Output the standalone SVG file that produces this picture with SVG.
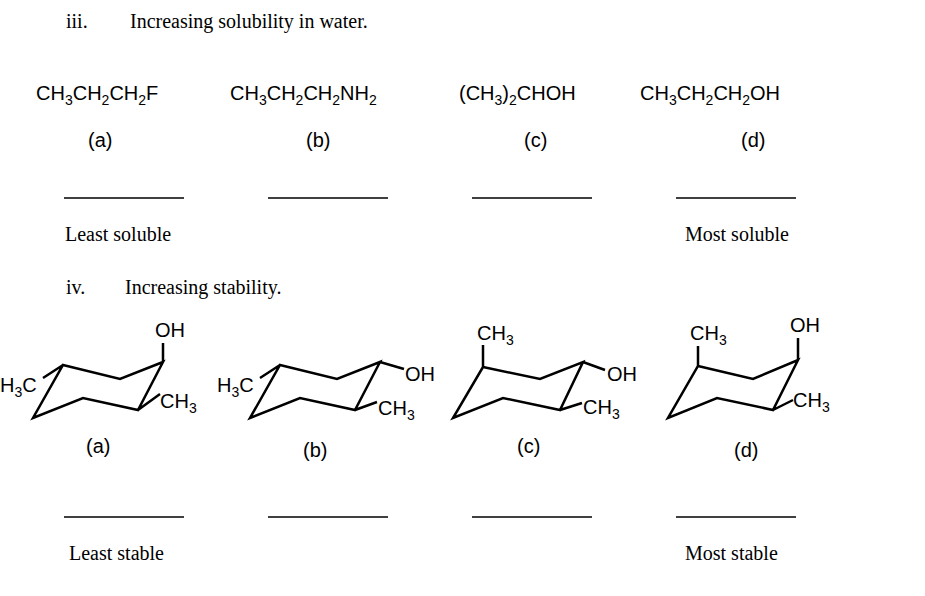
<svg xmlns="http://www.w3.org/2000/svg" width="925" height="596" viewBox="0 0 925 596">
<style>
.s{font-family:"Liberation Serif","DejaVu Serif",serif;font-size:20px;fill:#000}
.c{font-family:"Liberation Sans",Arial,sans-serif;font-size:20px;fill:#000}
.b{fill:none;stroke:#000;stroke-width:2.5;stroke-linejoin:miter}
.u{stroke:#000;stroke-width:1.3}
</style>
<rect width="925" height="596" fill="#fff"/>
<g id="headings">
<text class="s" x="66" y="28">iii.</text>
<text class="s" x="130" y="28">Increasing solubility in water.</text>
<text class="s" x="66" y="294">iv.</text>
<text class="s" x="125" y="294">Increasing stability.</text>
<text class="s" x="65" y="241">Least soluble</text>
<text class="s" x="685" y="241">Most soluble</text>
<text class="s" x="69" y="560">Least stable</text>
<text class="s" x="685" y="560">Most stable</text>
</g>
<g id="compounds">
<text class="c" x="36" y="100">CH<tspan font-size="14" dy="5">3</tspan><tspan dy="-5">CH</tspan><tspan font-size="14" dy="5">2</tspan><tspan dy="-5">CH</tspan><tspan font-size="14" dy="5">2</tspan><tspan dy="-5">F</tspan></text>
<text class="c" x="230" y="100">CH<tspan font-size="14" dy="5">3</tspan><tspan dy="-5">CH</tspan><tspan font-size="14" dy="5">2</tspan><tspan dy="-5">CH</tspan><tspan font-size="14" dy="5">2</tspan><tspan dy="-5">NH</tspan><tspan font-size="14" dy="5">2</tspan></text>
<text class="c" x="459" y="100">(CH<tspan font-size="14" dy="5">3</tspan><tspan dy="-5">)</tspan><tspan font-size="14" dy="5">2</tspan><tspan dy="-5">CHOH</tspan></text>
<text class="c" x="640" y="100">CH<tspan font-size="14" dy="5">3</tspan><tspan dy="-5">CH</tspan><tspan font-size="14" dy="5">2</tspan><tspan dy="-5">CH</tspan><tspan font-size="14" dy="5">2</tspan><tspan dy="-5">OH</tspan></text>
<text class="c" x="88" y="147">(a)</text>
<text class="c" x="306" y="147">(b)</text>
<text class="c" x="524" y="147">(c)</text>
<text class="c" x="741" y="147">(d)</text>
</g>
<g id="blanks">
<line class="u" x1="64" y1="198" x2="184" y2="198"/>
<line class="u" x1="268" y1="198" x2="388" y2="198"/>
<line class="u" x1="472" y1="198" x2="592" y2="198"/>
<line class="u" x1="676" y1="198" x2="796" y2="198"/>
<line class="u" x1="64" y1="517" x2="184" y2="517"/>
<line class="u" x1="268" y1="517" x2="388" y2="517"/>
<line class="u" x1="472" y1="517" x2="592" y2="517"/>
<line class="u" x1="676" y1="517" x2="796" y2="517"/>
</g>
<g id="chair-a">
<path class="b" d="M63,365 L120,379 L163,362 L138,410 L83,398 L33,418 Z M163,362 L163,343 M63,365 L43,378 M138,410 L160,394"/>
<text class="c" x="155" y="337">OH</text>
<text class="c" x="0" y="392">H<tspan font-size="14" dy="5">3</tspan><tspan dy="-5">C</tspan></text>
<text class="c" x="160" y="408">CH<tspan font-size="14" dy="5">3</tspan></text>
<text class="c" x="86" y="453">(a)</text>
</g>
<g id="chair-b">
<path class="b" d="M280,365 L337,379 L380,362 L355,410 L300,398 L250,418 Z M380,362 L404,369 M280,365 L260,378 M355,410 L377,402"/>
<text class="c" x="405" y="381">OH</text>
<text class="c" x="217" y="392">H<tspan font-size="14" dy="5">3</tspan><tspan dy="-5">C</tspan></text>
<text class="c" x="378" y="415">CH<tspan font-size="14" dy="5">3</tspan></text>
<text class="c" x="303" y="457">(b)</text>
</g>
<g id="chair-c">
<path class="b" d="M483,367 L540,379 L583,362 L560,410 L503,398 L453,418 Z M583,362 L605,370 M483,367 L483,345 M560,410 L582,403"/>
<text class="c" x="607" y="381">OH</text>
<text class="c" x="477" y="340">CH<tspan font-size="14" dy="5">3</tspan></text>
<text class="c" x="583" y="414">CH<tspan font-size="14" dy="5">3</tspan></text>
<text class="c" x="517" y="453">(c)</text>
</g>
<g id="chair-d">
<path class="b" d="M698,366 L753,379 L798,360 L773,410 L717,398 L668,418 Z M798,360 L798,338 M698,366 L698,346 M773,410 L793,400"/>
<text class="c" x="790" y="332">OH</text>
<text class="c" x="690" y="340">CH<tspan font-size="14" dy="5">3</tspan></text>
<text class="c" x="793" y="407">CH<tspan font-size="14" dy="5">3</tspan></text>
<text class="c" x="734" y="457">(d)</text>
</g>
</svg>
